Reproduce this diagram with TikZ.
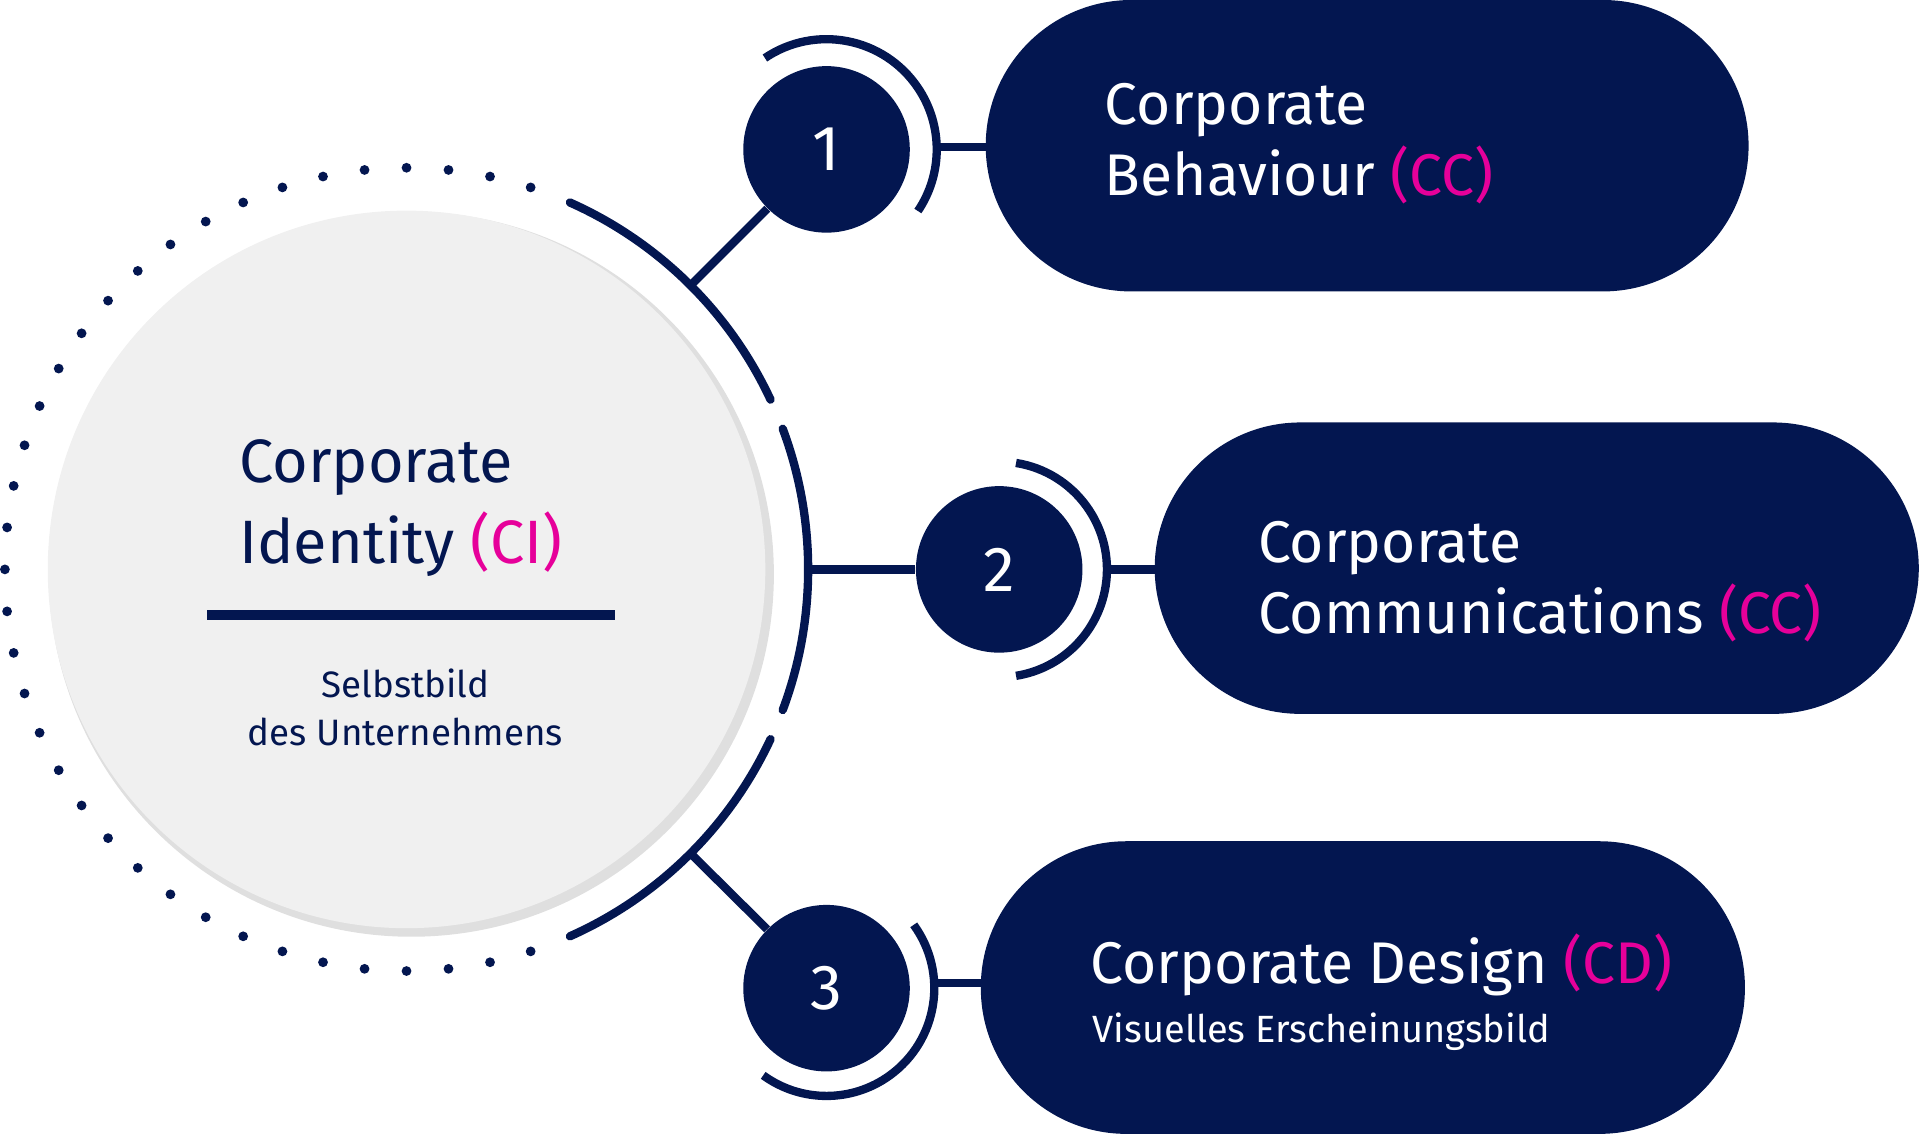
\documentclass[tikz,border=0pt]{standalone}
\usepackage{fontspec}
\usetikzlibrary{calc}
\setmainfont{Fira Sans}
\definecolor{navy}{HTML}{031650}
\definecolor{mag}{HTML}{E6009A}
\begin{document}
\begin{tikzpicture}[x=0.5pt,y=-0.5pt,
  ln/.style={navy,line width=3.4pt},
  numc/.style={circle,fill=navy,minimum size=68pt,inner sep=0pt,text=white,font=\fontsize{26}{30}\selectfont},
  pill/.style={fill=navy,rounded corners=59.5pt},
  big/.style={anchor=base west,inner sep=0pt,font=\fontsize{24}{28}\selectfont},
  wt/.style={text=white}]
\useasboundingbox (0,0) rectangle (1568,926);
% main circle
\fill[gray!25] (336,469) circle[radius=296];
\fill[white!94!black] (332,465) circle[radius=293];
% outer arcs
\draw[ln,line cap=round] (332,465) ++(-66:328) arc[start angle=-66,end angle=-25,radius=328];
\draw[ln,line cap=round] (332,465) ++(-20.5:328) arc[start angle=-20.5,end angle=20.5,radius=328];
\draw[ln,line cap=round] (332,465) ++(25:328) arc[start angle=25,end angle=66,radius=328];
\foreach \a in {72,78,...,288} \fill[navy] (332,465) ++(\a:328) circle[radius=4];
\coordinate (a1) at ($(332,465)+(-45:328)$);
\coordinate (a2) at (660,465);
\coordinate (a3) at ($(332,465)+(45:328)$);
% number circles
\node[numc] (n1) at (675,122) {1};
\node[numc] (n2) at (816,465) {2};
\node[numc] (n3) at (675,807) {3};
\draw[ln] (675,122) ++(-124:90) arc[start angle=-124,end angle=34,radius=90];
\draw[ln] (816,465) ++(-81:88) arc[start angle=-81,end angle=81,radius=88];
\draw[ln] (675,807) ++(-36:88) arc[start angle=-36,end angle=126,radius=88];
% pills
\fill[pill] (805,0) rectangle (1428,238);
\fill[pill] (943,345) rectangle (1567,583);
\fill[pill] (801,687) rectangle (1425,926);
\coordinate (p1) at (805,120);
\coordinate (p2) at (943,465);
\coordinate (p3) at (801,803);
\coordinate (r1) at (765,120);
\coordinate (r2) at (904,465);
\coordinate (r3) at (762,803);
\draw[ln] (a1) -- (n1);
\draw[ln] (a2) -- (n2);
\draw[ln] (a3) -- (n3);
\draw[ln] (r1) -- (p1);
\draw[ln] (r2) -- (p2);
\draw[ln] (r3) -- (p3);
% texts
\node[big,wt] (t1a) at (902,102) {Corporate};
\node[big,wt] (t1b) at (902,160) {Behaviour \textcolor{mag}{(CC)}};
\node[big,wt] (t2a) at (1027,459) {Corporate};
\node[big,wt] (t2b) at (1027,517) {Communications \textcolor{mag}{(CC)}};
\node[big,wt] (t3a) at (890,803) {Corporate Design \textcolor{mag}{(CD)}};
\node[anchor=base west,inner sep=0pt,text=white,font=\fontsize{15.5}{18}\selectfont] (t3b) at (892,851) {Visuelles Erscheinungsbild};
\node[big,text=navy,font=\fontsize{25}{30}\selectfont] (ma) at (195,394) {Corporate};
\node[big,text=navy,font=\fontsize{25}{30}\selectfont] (mb) at (195,460) {Identity \textcolor{mag}{(CI)}};
\fill[navy] (169,498) rectangle (502,506);
\node[text=navy,align=center,font=\fontsize{15}{19.5}\selectfont] (ms) at (331,578) {Selbstbild\\des Unternehmens};
\end{tikzpicture}
\end{document}
